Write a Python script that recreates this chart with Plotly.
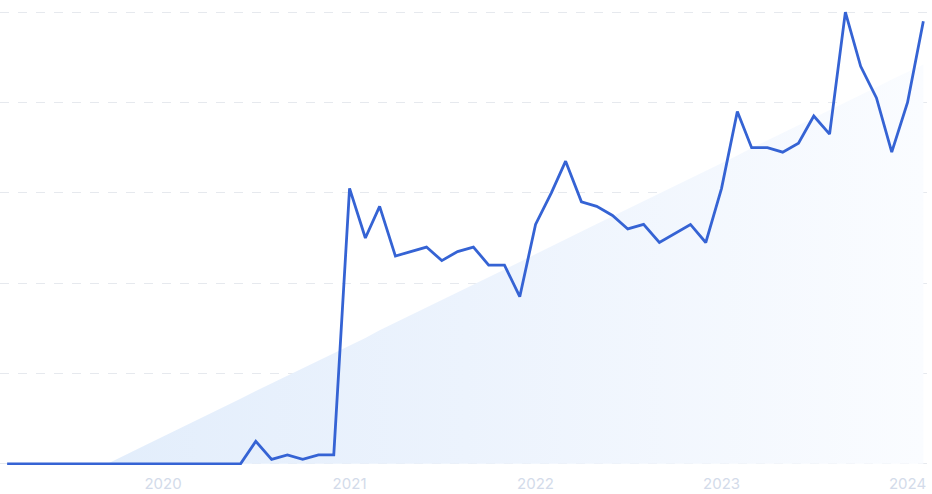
import numpy as np
import pandas as pd
import plotly.graph_objects as go

dates = pd.date_range("2019-03-01", "2024-02-01", freq="MS")
values = [0, 0, 0, 0, 0, 0, 0, 0, 0, 0, 0, 0, 0, 0, 0, 0,
          5, 1, 2, 1, 2, 2,
          61, 50, 57, 46, 47, 48, 45, 47, 48, 44, 44, 37,
          53, 60, 67, 58, 57, 55, 52, 53, 49, 51, 53, 49,
          61, 78, 70, 70, 69, 71, 77, 73, 100, 88, 81, 69, 80, 98]
tick_vals = ["2020-01-01", "2021-01-01", "2022-01-01", "2023-01-01", "2024-01-01"]
tick_text = ["2020", "2021", "2022", "2023", "2024"]

idx = np.arange(len(values))
m, b = np.polyfit(idx, values, 1)
trend = m * idx + b

fig = go.Figure()
fig.add_trace(go.Scatter(
    x=dates, y=trend, mode="lines", line=dict(width=0),
    fill="tozeroy",
    fillgradient=dict(type="horizontal",
                      colorscale=[[0, "#e0ecfb"], [0.5, "#ecf3fd"], [1, "#fafcff"]]),
    hoverinfo="skip", showlegend=False,
))
fig.add_trace(go.Scatter(
    x=dates, y=values, mode="lines",
    line=dict(color="#3563d4", width=2.8),
    showlegend=False,
))

fig.update_layout(
    width=932, height=494,
    margin=dict(l=0, r=0, t=11, b=29),
    paper_bgcolor="white", plot_bgcolor="white",
    font=dict(family="Inter", size=15, color="#d3dbea"),
)
fig.update_xaxes(
    range=[dates[0] - pd.Timedelta(days=14), dates[-1] + pd.Timedelta(days=17)],
    tickvals=tick_vals, ticktext=tick_text,
    showgrid=False, zeroline=False, showline=False, ticks="",
    ticklabelstandoff=8,
)
fig.update_yaxes(
    range=[-0.25, 100.25], tickvals=[0, 20, 40, 60, 80, 100],
    showticklabels=False, showgrid=True,
    gridcolor="#e6e9ee", griddash="dash", gridwidth=1,
    zeroline=False, showline=False,
)
fig.write_html("out.html", config={"displayModeBar": False},
               post_script="document.body.style.margin='0';")
